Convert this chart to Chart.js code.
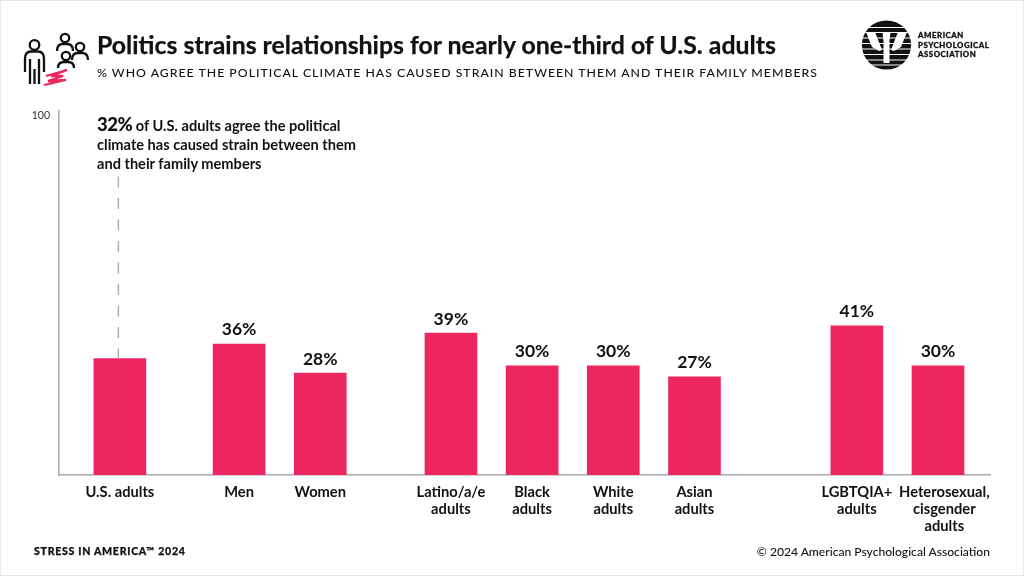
<!DOCTYPE html>
<html>
<head>
<meta charset="utf-8">
<script src="https://cdn.jsdelivr.net/npm/chart.js@4"></script>
<style>
    * { box-sizing: border-box; }
    html, body { margin: 0; padding: 0; background: #fff; }
    #page { position: relative; width: 1024px; height: 576px; overflow: hidden; border: 1px solid #e8e8e8; font-family: Lato, sans-serif; color: #111; }
    #page > * { position: absolute; }
    #chartCanvas { left: -1px; top: -1px; }
    .title { left: 96px; top: 28px; font-size: 24.85px; font-weight: 700; white-space: nowrap; -webkit-text-stroke: 0.25px #111; }
    .subtitle { left: 96px; top: 64px; font-size: 12.3px; font-weight: 500; letter-spacing: 1px; white-space: nowrap; }
    .note { left: 96px; top: 114px; font-size: 14.6px; font-weight: 700; line-height: 19px; white-space: nowrap; }
    .note b { font-size: 18.5px; font-weight: 900; letter-spacing: -0.5px; }
    .logoText { left: 917px; top: 30px; font-size: 7.8px; font-weight: 900; line-height: 9.6px; letter-spacing: 0.55px; white-space: nowrap; -webkit-text-stroke: 0.3px #111; }
    .source { left: 33px; top: 544px; font-size: 10.6px; font-weight: 900; letter-spacing: 0.7px; white-space: nowrap; -webkit-text-stroke: 0.25px #111; }
    .copyright { right: 33px; top: 543px; font-size: 12.1px; font-weight: 500; white-space: nowrap; }
</style>
</head>
<body>
<div id="page">
    <canvas id="chartCanvas" width="1024" height="576"></canvas>

    <svg style="left:19px;top:27px" width="72" height="60" viewBox="19 27 72 60" fill="none" stroke="#111" stroke-width="2.3">
        <circle cx="33.5" cy="44" r="4.8"/>
        <path d="M24 71 V58 Q24 50.5 30 50.5 H37 Q43 50.5 43 58 V71"/>
        <path d="M29 58 V83 M33.5 68 V83 M38 58 V83"/>
        <circle cx="64" cy="37" r="4.2"/>
        <path d="M56 50 Q56 43 62 43 H66 Q72 43 72 50"/>
        <circle cx="79" cy="46" r="4.2"/>
        <path d="M71 59 Q71 52 77 52 H81 Q87 52 87 59"/>
        <circle cx="65" cy="55" r="4.2"/>
        <path d="M57 67 Q57 61 63 61 H67 Q73 61 73 67"/>
        <path d="M45 75 L66 69 L50 75 L62 75 L47 80 L65 79 L43 84" stroke="#ee2660" stroke-width="2.3"/>
    </svg>

    <div class="title">Politics strains relationships for nearly one-third of U.S. adults</div>
    <div class="subtitle">% WHO AGREE THE POLITICAL CLIMATE HAS CAUSED STRAIN BETWEEN THEM AND THEIR FAMILY MEMBERS</div>

    <svg style="left:860px;top:19px" width="52" height="52" viewBox="860 19 52 52">
        <circle cx="885.5" cy="44" r="24.6" fill="#111"/>
        <path d="M861 26.5H910M861 31.5H910M861 37H910M861 42.5H910M861 48H910M861 53.5H910M861 59H910M861 64H910" stroke="#fff" stroke-width="1"/>
        <path d="M865 31H874L881 49L878 50L871 46ZM906 31H897L890 49L893 50L900 46ZM881.5 31H889.5L888.5 40V62H882.5V40Z" fill="#fff"/>
    </svg>
    <div class="logoText">AMERICAN<br>PSYCHOLOGICAL<br>ASSOCIATION</div>

    <div class="note"><b>32%</b> of U.S. adults agree the political<br>climate has caused strain between them<br>and their family members</div>

    <div class="source">STRESS IN AMERICA™ 2024</div>
    <div class="copyright">© 2024 American Psychological Association</div>
</div>

<script>
var categories = ["U.S. adults", "Men", "Women", ["Latino/a/e", "adults"], ["Black", "adults"], ["White", "adults"], ["Asian", "adults"], ["LGBTQIA+", "adults"], ["Heterosexual,", "cisgender", "adults"]];
var agreeValues = [32, 36, 28, 39, 30, 30, 27, 41, 30];
var leaderTop = 82;

// the groups sit at uneven distances, so the category axis gets empty slots between the bars
var leadSlots = 48;
var gapSlots = [94, 64, 103, 64, 64, 64, 128, 64];
var trailSlots = 41;
// last label is pushed right so it does not run into LGBTQIA+
var labelShiftSlots = [0, 0, 0, 0, 0, 0, 0, 0, 5];

var slotLabels = [];
var slotValues = [];

function addEmptySlots(count) {
    for (var i = 0; i < count; i++) {
        slotLabels.push("");
        slotValues.push(null);
    }
}

addEmptySlots(leadSlots);
for (var i = 0; i < categories.length; i++) {
    slotLabels.push("");
    slotValues.push(agreeValues[i]);
    if (i < gapSlots.length) {
        addEmptySlots(gapSlots[i] - 1);
    }
}
addEmptySlots(trailSlots);

var barSlot = leadSlots;
for (var i = 0; i < categories.length; i++) {
    slotLabels[barSlot + labelShiftSlots[i]] = categories[i];
    barSlot += gapSlots[i];
}

var barExtras = {
    id: "barExtras",
    afterDatasetsDraw: function (chart) {
        var ctx = chart.ctx;
        var bars = chart.getDatasetMeta(0).data;
        var yScale = chart.scales.y;
        var first = true;

        ctx.save();
        ctx.textAlign = "center";
        ctx.textBaseline = "alphabetic";
        ctx.fillStyle = "#111";
        ctx.font = "700 17.5px Lato";

        for (var i = 0; i < bars.length; i++) {
            if (slotValues[i] == null) continue;

            if (first) {
                // first bar has its value in the note, it only gets the leader line
                ctx.strokeStyle = "#aaa";
                ctx.lineWidth = 1.4;
                ctx.setLineDash([11, 10.5]);
                ctx.beginPath();
                ctx.moveTo(bars[i].x - 1.5, yScale.getPixelForValue(leaderTop));
                ctx.lineTo(bars[i].x - 1.5, bars[i].y);
                ctx.stroke();
                ctx.setLineDash([]);
                first = false;
                continue;
            }
            ctx.fillText(slotValues[i] + "%", bars[i].x, bars[i].y - 8.5);
        }
        ctx.restore();
    }
};

new Chart("chartCanvas", {
    type: "bar",
    data: {
        labels: slotLabels,
        datasets: [
            {
                data: slotValues,
                backgroundColor: "#ee2660",
                barThickness: 52,
                borderWidth: 0
            }]
    },
    options: {
        responsive: false,
        animation: false,
        layout: {
            padding: { top: 111, right: 34, left: 0, bottom: 0 }
        },
        plugins: {
            legend: { display: false },
            tooltip: { enabled: false }
        },
        scales: {
            x: {
                offset: false,
                afterFit: function (scale) { scale.height = 101; },
                grid: { display: false, drawTicks: false },
                border: { color: "#aaa", width: 1.5 },
                ticks: {
                    autoSkip: false,
                    maxRotation: 0,
                    minRotation: 0,
                    padding: 9,
                    color: "#111",
                    font: { family: "Lato", size: 14.7, weight: "700", lineHeight: 1.15 }
                }
            },
            y: {
                min: 0,
                max: 100,
                afterFit: function (scale) { scale.width = 59; },
                grid: { display: false, drawTicks: false },
                border: { color: "#aaa", width: 1.5 },
                ticks: {
                    stepSize: 100,
                    padding: 9,
                    labelOffset: 5,
                    color: "#333",
                    font: { family: "Lato", size: 10.5 },
                    callback: function (value) { return value == 100 ? "100" : ""; }
                }
            }
        }
    },
    plugins: [barExtras]
});
</script>
</body>
</html>
